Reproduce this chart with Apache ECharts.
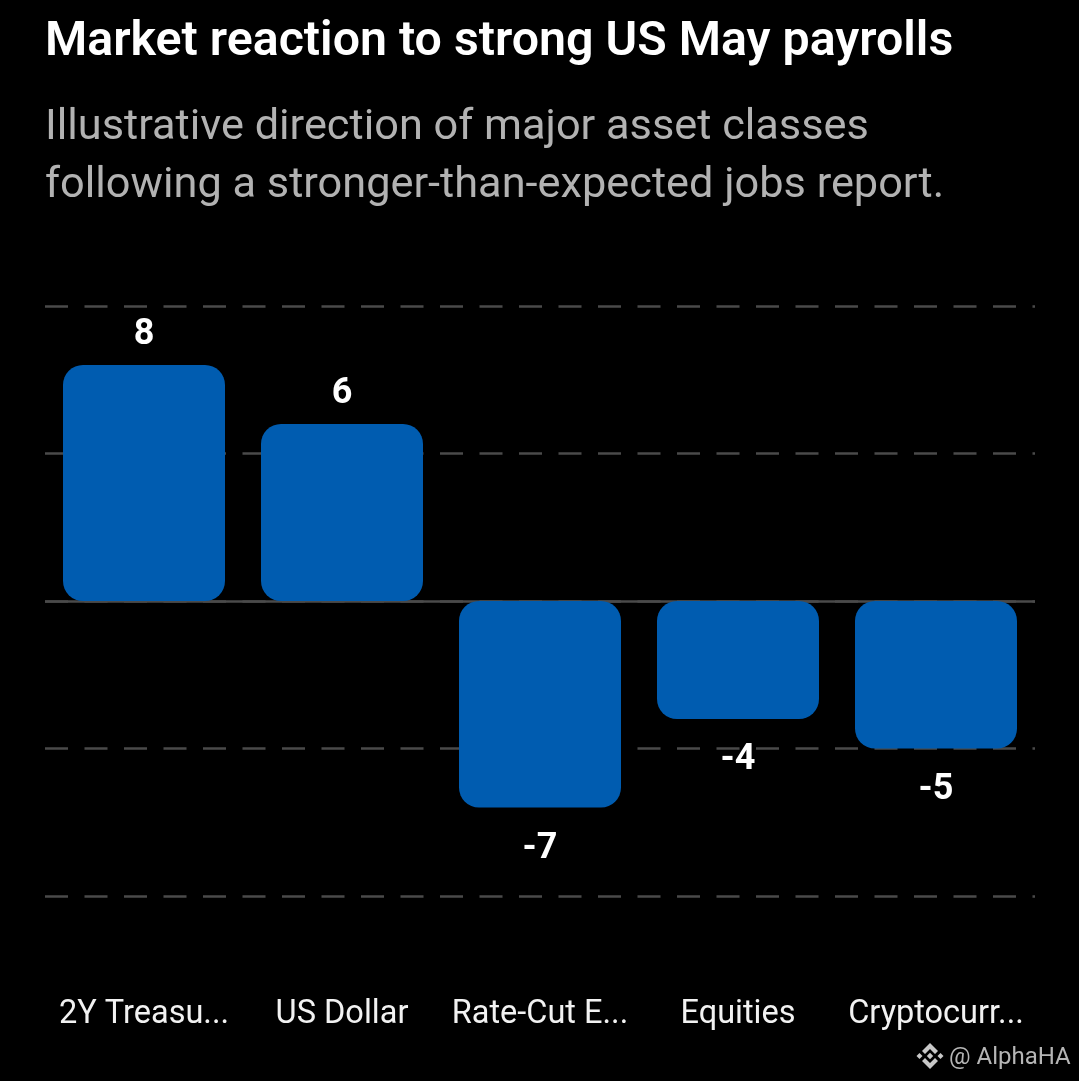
<!DOCTYPE html>
<html><head><meta charset="utf-8">
<style>html,body{margin:0;padding:0;background:#000}#c{width:1079px;height:1081px}</style>
<script src="https://cdn.jsdelivr.net/npm/echarts@6/dist/echarts.min.js"></script>
</head><body><div id="c"></div>
<script>
const categories = ["2Y Treasu...", "US Dollar", "Rate-Cut E...", "Equities", "Cryptocurr..."];
const values = [8, 6, -7, -4, -5];
const titleText = "Market reaction to strong US May payrolls";
const subtitleText = "Illustrative direction of major asset classes\nfollowing a stronger-than-expected jobs report.";
const watermark = "@ AlphaHA";
const font = "Roboto";
const chart = echarts.init(document.getElementById('c'), null, {renderer:'canvas'});
const logoFill = '#c8c8c8';
const poly = (points) => ({type:'polygon', shape:{points}, style:{fill:logoFill}});
const diamond = (cx, cy, r) => poly([[cx,cy-r],[cx+r,cy],[cx,cy+r],[cx-r,cy]]);
chart.setOption({
  backgroundColor:'#000',
  animation:false,
  title:[
    {text:titleText,left:45,top:19,padding:0,textStyle:{color:'#fff',fontFamily:font,fontSize:48.3,fontWeight:600}},
    {text:subtitleText,left:45,top:99,padding:0,textStyle:{color:'#b2b2b2',fontFamily:font,fontSize:43.3,fontWeight:400,lineHeight:58}}
  ],
  grid:{left:45,right:44,top:306,bottom:185},
  xAxis:{type:'category',data:categories,position:'bottom',offset:119,
    axisLine:{show:false},axisTick:{show:false},
    axisLabel:{color:'#f2f2f2',fontFamily:font,fontSize:32.5,margin:0,interval:0,align:'center',verticalAlign:'middle',lineHeight:36}
  },
  yAxis:{type:'value',min:-10,max:10,interval:5,
    axisLabel:{show:false},axisLine:{show:false},axisTick:{show:false},
    splitLine:{show:true,lineStyle:{color:'#4a4a4a',width:2.5,type:[23,16.5]}}
  },
  series:[{type:'bar',barWidth:162,z:3,
    data:values.map(v=>({value:v,label:{distance:v<0?23:12}})),
    itemStyle:{color:'#005cb0',borderRadius:20},
    label:{show:true,position:'outside',color:'#fff',fontFamily:font,fontSize:36,fontWeight:700},
    markLine:{silent:true,symbol:'none',label:{show:false},z:2,
      lineStyle:{color:'#4a4a4a',width:2.5,type:'solid'},data:[{yAxis:0}]}
  }],
  graphic:[
    {type:'text',left:949,top:1046,style:{text:watermark,fill:'#b5b5b5',fontFamily:font,fontSize:24}},
    {type:'group',x:930,y:1056,children:[
      poly([[0,-13],[8,-5],[5,-2],[0,-7],[-5,-2],[-8,-5]]),
      poly([[0,13],[8,5],[5,2],[0,7],[-5,2],[-8,5]]),
      diamond(0,0,3.2),diamond(-10.5,0,3),diamond(10.5,0,3)
    ]}
  ]
});
</script></body></html>
